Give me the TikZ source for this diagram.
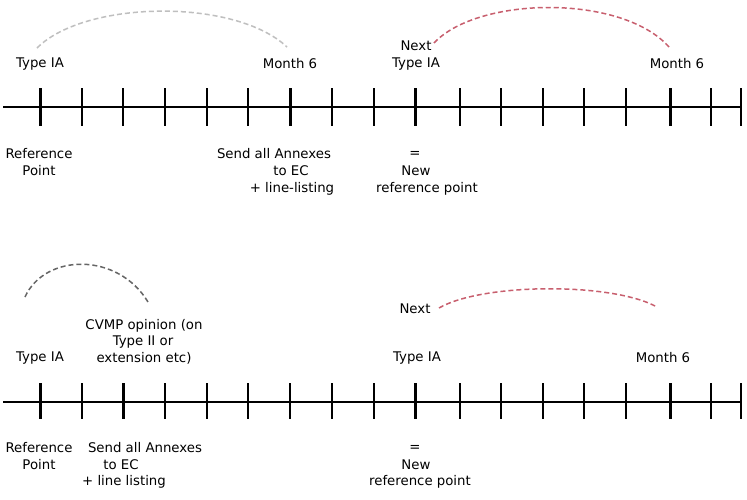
\documentclass[tikz,border=0pt]{standalone}
\usepackage{fontspec}
\setmainfont{DejaVu Sans}
\begin{document}
\begin{tikzpicture}[x=1pt,y=-1pt,
  lbl/.style={inner sep=0pt,anchor=center,font=\fontsize{13.3}{15}\selectfont,text=black},
  axis/.style={line width=1.2pt,black},
  thin tick/.style={line width=1.1pt,black},
  thick tick/.style={line width=3pt,black},
  arcgray/.style={line width=1.5pt,dash pattern=on 5pt off 3pt,color=black!25},
  arcdark/.style={line width=1.5pt,dash pattern=on 5pt off 3pt,color=black!60},
  arcred/.style={line width=1.5pt,dash pattern=on 5pt off 3pt,color={rgb,255:red,200;green,95;blue,110}}]
\useasboundingbox[fill=white] (0,0) rectangle (747,499);

% ---------- top timeline ----------
\coordinate (tl) at (3,107);
\coordinate (tr) at (742,107);
\draw[axis] (tl) -- (tr);
\foreach \x in {82,123,165,207,248,332,374,460,501,543,584,626,711,741}
  \draw[thin tick] (\x,88) -- (\x,126);
\foreach \x in {40,290,415,670}
  \draw[thick tick] (\x,88) -- (\x,126);

\node[lbl] (t1) at (40,64) {Type IA};
\node[lbl] (t2) at (290,64) {Month 6};
\node[lbl] (t3a) at (416,46) {Next};
\node[lbl] (t3) at (416,64) {Type IA};
\node[lbl] (t4) at (677,64) {Month 6};

\node[lbl] (r1a) at (39,154) {Reference};
\node[lbl] (r1b) at (39,171) {Point};
\node[lbl] (s1a) at (274,154) {Send all Annexes};
\node[lbl] (s1b) at (291,171) {to EC};
\node[lbl] (s1c) at (292,189) {+ line-listing};
\node[lbl] (n1a) at (415,154) {=};
\node[lbl] (n1b) at (416,171) {New};
\node[lbl] (n1c) at (427,189) {reference point};

\coordinate (ga) at (37,48);
\coordinate (gb) at (287,47);
\draw[arcgray] (ga) .. controls (85,0) and (235,-2) .. (gb);
\coordinate (ra) at (434,43);
\coordinate (rb) at (669,47);
\draw[arcred] (ra) .. controls (478,-4) and (622,-6) .. (rb);

% ---------- bottom timeline ----------
\coordinate (bl) at (3,402);
\coordinate (br) at (742,402);
\draw[axis] (bl) -- (br);
\foreach \x in {82,165,207,248,290,332,374,460,501,543,584,626,711,741}
  \draw[thin tick] (\x,383) -- (\x,419);
\foreach \x in {40,123,415,670}
  \draw[thick tick] (\x,383) -- (\x,419);

\node[lbl] (b1) at (40,358) {Type IA};
\node[lbl] (c1) at (144,326) {CVMP opinion (on};
\node[lbl] (c2) at (143,342) {Type II or};
\node[lbl] (c3) at (144,358) {extension etc)};
\node[lbl] (b3a) at (415,309) {Next};
\node[lbl] (b3) at (417,358) {Type IA};
\node[lbl] (b4) at (663,358) {Month 6};

\node[lbl] (r2a) at (39,448) {Reference};
\node[lbl] (r2b) at (39,465) {Point};
\node[lbl] (s2a) at (145,448) {Send all Annexes};
\node[lbl] (s2b) at (121,465) {to EC};
\node[lbl] (s2c) at (124,482) {+ line listing};
\node[lbl] (n2a) at (415,448) {=};
\node[lbl] (n2b) at (416,465) {New};
\node[lbl] (n2c) at (420,482) {reference point};

\coordinate (da) at (25,297);
\coordinate (db) at (148,302);
\draw[arcdark] (da) .. controls (45,253) and (118,252) .. (db);
\coordinate (qa) at (439,308);
\coordinate (qb) at (657,307);
\draw[arcred] (qa) .. controls (482,283) and (612,282) .. (qb);
\end{tikzpicture}
\end{document}
